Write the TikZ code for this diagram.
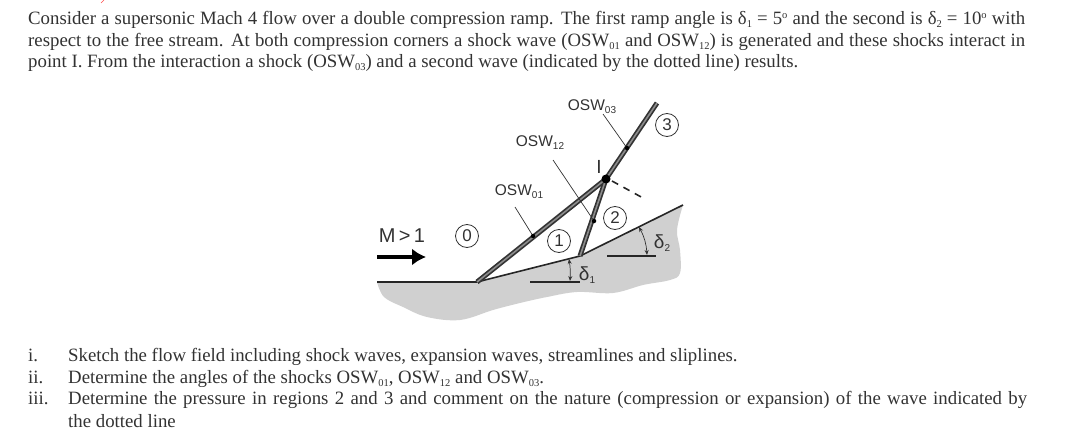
\documentclass[tikz,border=0pt]{standalone}
\usepackage{fontspec}
\setmainfont{Liberation Serif}
\newfontfamily\labelfont{Liberation Sans}
\usetikzlibrary{arrows.meta}
\definecolor{inkc}{RGB}{50,50,50}
\definecolor{blobc}{RGB}{208,208,208}
\newcommand\lo[1]{\raisebox{-3pt}{\fontsize{10.5}{11}\selectfont #1}}
\newcommand\hi[1]{\raisebox{6pt}{\fontsize{10.5}{11}\selectfont #1}}
\newcommand\slo[1]{\raisebox{-3pt}{\fontsize{10}{11}\selectfont #1}}
\tikzset{
  para/.style={anchor=base west,inner sep=0pt,text=inkc,font=\fontsize{18.8}{21}\selectfont},
  lab/.style={inner sep=0pt,text=inkc,font=\labelfont\fontsize{15.5}{17}\selectfont},
  region/.style={circle,draw=inkc,line width=0.8pt,minimum size=23pt,inner sep=0pt,text=inkc,font=\labelfont\fontsize{17}{19}\selectfont},
  wall/.style={draw=black!85,line width=1.6pt},
  shock/.style={draw=black!80,line width=5pt},
  shockin/.style={draw=gray!90,line width=1.6pt},
  leader/.style={draw=inkc,line width=0.7pt},
  angarrow/.style={draw=inkc,line width=0.7pt,{Stealth[length=5pt,width=4pt]}-{Stealth[length=5pt,width=4pt]}},
  spot/.style={circle,fill=black,inner sep=0pt,minimum size=#1},
}
\begin{document}
\begin{tikzpicture}[x=1pt,y=-1pt]
\useasboundingbox (0,0) rectangle (1082,444);
% text
\node[para] (t1) at (28,25) {\hbox to 997pt{Consider a supersonic Mach 4 flow over a double compression ramp. The first ramp angle is δ\lo{1} = 5\hi{o} and the second is δ\lo{2} = 10\hi{o} with}};
\node[para] (t2) at (28,46.5) {\hbox to 997pt{respect to the free stream. At both compression corners a shock wave (OSW\lo{01} and OSW\lo{12}) is generated and these shocks interact in}};
\node[para] (t3) at (28,67.5) {point I. From the interaction a shock (OSW\lo{03}) and a second wave (indicated by the dotted line) results.};
\node[para] (i1) at (28,361.5) {i.};
\node[para] (i2) at (28,383.5) {ii.};
\node[para] (i3) at (28,404.5) {iii.};
\node[para] (l1) at (68,361.5) {Sketch the flow field including shock waves, expansion waves, streamlines and sliplines.};
\node[para] (l2) at (68,383.5) {Determine the angles of the shocks OSW\lo{01}, OSW\lo{12} and OSW\lo{03}.};
\node[para] (l3) at (68,404.5) {\hbox to 959pt{Determine the pressure in regions 2 and 3 and comment on the nature (compression or expansion) of the wave indicated by}};
\node[para] (l4) at (68,427) {the dotted line};
% geometry
\coordinate (start) at (377,282);
\coordinate (c1) at (477,282);
\coordinate (c2) at (580,256);
\coordinate (rend) at (683,205);
\coordinate (I) at (606,179);
\coordinate (send) at (657,103);
\coordinate (d03) at (627,148);
\coordinate (d12) at (594,221);
\coordinate (d01) at (533,236);
% body
\fill[blobc] plot[smooth,tension=0.6] coordinates {(377,282)(384,297)(403,307)(427,317)(460,320)(493,310)(520,303)(547,297)(577,292)(613,293)(643,285)(670,280)(680,273)(680,250)(677,230)(683,205)} -- (c2) -- (c1) -- cycle;
\draw[wall] (start) -- (c1) -- (c2) -- (rend);
% shocks
\draw[shock] (c1) -- (I);
\draw[shock] (c2) -- (I);
\draw[shock] (I) -- (send);
\draw[shockin] (c1) -- (I);
\draw[shockin] (c2) -- (I);
\draw[shockin] (I) -- (send);
\draw[draw=black!85,line width=1.6pt,dash pattern=on 7pt off 6pt] (612,181) coordinate (ds) -- (643,198) coordinate (de);
\node[spot=9pt] (Inode) at (I) {};
\node[spot=4.5pt] (n03) at (d03) {};
\node[spot=4.5pt] (n12) at (d12) {};
\node[spot=4.5pt] (n01) at (d01) {};
% labels
\node[lab] (o03) at (592,107) {OSW\slo{03}};
\node[lab] (o12) at (540,143) {OSW\slo{12}};
\node[lab] (o01) at (519,192) {OSW\slo{01}};
\node[lab,font=\labelfont\fontsize{19}{20}\selectfont] (Il) at (599,167) {I};
\draw[leader] (603,114) -- (n03);
\draw[leader] (553,160) -- (n12);
\draw[leader] (515,207) -- (n01);
\node[lab,font=\labelfont\fontsize{20}{22}\selectfont] (mach) at (402,236) {M\,>\,1};
\coordinate (ma) at (377,257);
\coordinate (mb) at (426,257);
\draw[draw=black,line width=3.4pt,-{Latex[length=14pt,width=17pt]}] (ma) -- (mb);
\node[region] (r0) at (467,236) {0};
\node[region] (r1) at (559,241) {1};
\node[region] (r2) at (615,218) {2};
\node[region] (r3) at (667,125) {3};
% angles
\draw[wall] (530,282) -- (580,282);
\draw[wall] (607,256) -- (656,256);
\draw[angarrow] (569,259) to[bend left=6] (570,281);
\draw[angarrow] (639,227) to[bend left=12] (647,255);
\node[lab,font=\labelfont\fontsize{19}{21}\selectfont] (a1) at (587,275) {δ\slo{1}};
\node[lab,font=\labelfont\fontsize{19}{21}\selectfont] (a2) at (662,243) {δ\slo{2}};
% stray mark
\draw[red!70,line width=0.6pt] (101,3) -- (104,0);
\end{tikzpicture}
\end{document}
